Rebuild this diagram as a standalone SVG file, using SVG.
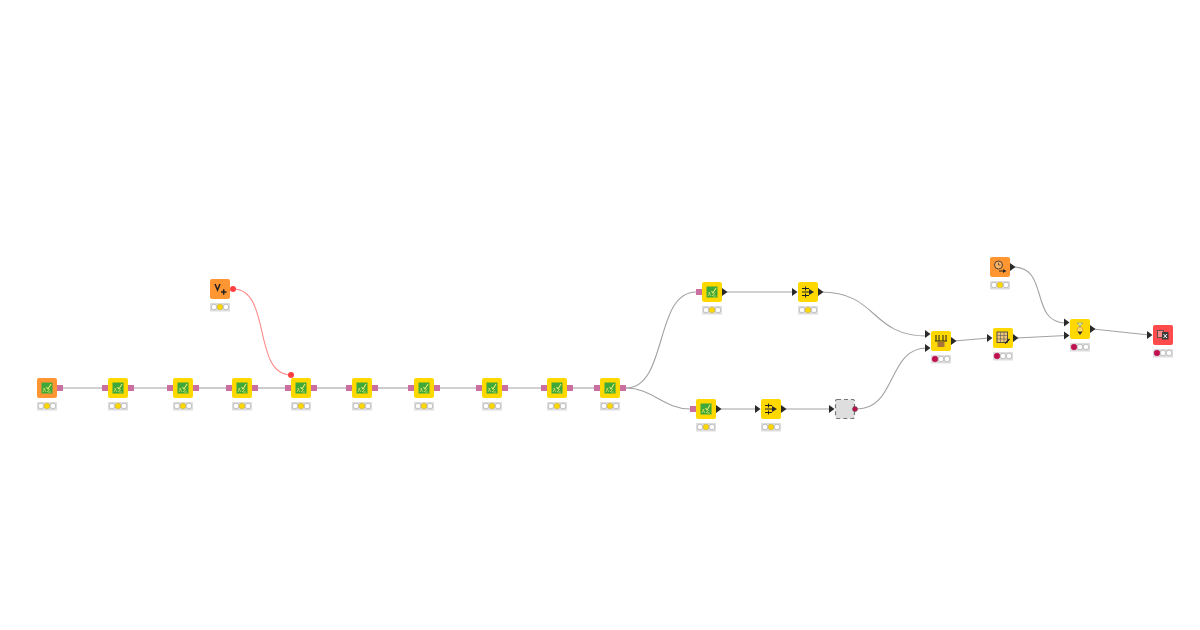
<svg xmlns="http://www.w3.org/2000/svg" width="1200" height="630" viewBox="0 0 1200 630">
<style>
.c{fill:none;stroke:#a2a2a2;stroke-width:1.100}
.r{fill:none;stroke:#ff8585;stroke-width:1.100}
.y{fill:#ffd800}.o{fill:#ff9632}.x{fill:#ff4b4b}.g{fill:#dedede;stroke:#777;stroke-width:1.200;stroke-dasharray:4 3}
.p{fill:#cb6fa0}.t{fill:#2a2a2a}.v{fill:#ff4040}.m{fill:#c0104f;stroke:#444;stroke-width:.5}
.sb{fill:#dedede}.l{fill:#fff;stroke:#aaa;stroke-width:.7}.ly{fill:#ffd800;stroke:#c8b040;stroke-width:.6}.lr{fill:#c0104f;stroke:#c0104f;stroke-width:.7}
.k{fill:none;stroke:#222;stroke-width:1}
</style>
<defs>
<g id="s-y"><rect class="sb" x="-10" y="14" width="20" height="8.500"/><circle class="l" cx="-6" cy="18" r="2.800"/><circle class="ly" cx="0" cy="18" r="2.800"/><circle class="l" cx="6" cy="18" r="2.800"/></g>
<g id="s-r"><rect class="sb" x="-10" y="14" width="20" height="8.500"/><circle class="lr" cx="-6" cy="18" r="2.800"/><circle class="l" cx="0" cy="18" r="2.800"/><circle class="l" cx="6" cy="18" r="2.800"/></g>
<g id="rf"><rect x="-5.500" y="-5.500" width="11" height="11" fill="#3ea83a"/><path d="M-.5 -1 L1 1 L4 -4" fill="none" stroke="#e4ec6a" stroke-width="1.100"/><path d="M-4 4 L-2 0 M-3.500 0 L-1 4 M0 4 L3 1 M1 4 H4" fill="none" stroke="#d8e25e" stroke-width=".8"/></g>
<path id="pr" d="M0 -4 L5.500 0 L0 4 Z" class="t"/>
<rect id="body-y" class="y" x="-10" y="-10" width="20" height="20" rx="2"/>
<rect id="body-o" class="o" x="-10" y="-10" width="20" height="20" rx="2"/>
<g id="pink-b"><rect class="p" x="-16" y="-3" width="6" height="6"/><rect class="p" x="10" y="-3" width="6" height="6"/></g>
<g id="join"><path d="M-6 -3.500 H1 M-6 3.500 H1 M-6 0 H2 M-2.500 -5.500 V-1.500 M-2.500 1.500 V5.500" class="k" stroke-width=".8"/><path d="M1 -3 L6 0 L1 3 Z" class="t"/></g>
</defs>
<g id="connectors">
<path class="c" d="M63 388 H102"/>
<path class="c" d="M134 388 H167"/>
<path class="c" d="M199 388 H226"/>
<path class="c" d="M258 388 H285"/>
<path class="c" d="M317 388 H346"/>
<path class="c" d="M378 388 H408"/>
<path class="c" d="M440 388 H476"/>
<path class="c" d="M508 388 H541"/>
<path class="c" d="M573 388 H594"/>
<path class="r" d="M233 289 C272 289 252 375 291 375"/>
<path class="c" d="M626 388 C668 388 654 292 696 292"/>
<path class="c" d="M626 388 C652 388 664 409 690 409"/>
<path class="c" d="M725 292 H794"/>
<path class="c" d="M821 292 C878 292 870 336 927 336"/>
<path class="c" d="M719 409 H757"/>
<path class="c" d="M784 409 H831"/>
<path class="c" d="M857 409 C897 409 887 348 927 348"/>
<path class="c" d="M954 341 L989 338"/>
<path class="c" d="M1016 338 L1066 335.500"/>
<path class="c" d="M1013 267 C1050 267 1029 323 1066 323"/>
<path class="c" d="M1093 329 L1149 335"/>
</g>
<g id="n1" transform="translate(47 388)"><use href="#body-o"/><use href="#rf"/><rect class="p" x="10" y="-3" width="6" height="6"/><use href="#s-y"/></g>
<g id="n2" transform="translate(118 388)"><use href="#body-y"/><use href="#rf"/><use href="#pink-b"/><use href="#s-y"/></g>
<g id="n3" transform="translate(183 388)"><use href="#body-y"/><use href="#rf"/><use href="#pink-b"/><use href="#s-y"/></g>
<g id="n4" transform="translate(242 388)"><use href="#body-y"/><use href="#rf"/><use href="#pink-b"/><use href="#s-y"/></g>
<g id="n5" transform="translate(301 388)"><use href="#body-y"/><use href="#rf"/><use href="#pink-b"/><use href="#s-y"/><circle class="v" cx="-10" cy="-13" r="3"/></g>
<g id="n6" transform="translate(362 388)"><use href="#body-y"/><use href="#rf"/><use href="#pink-b"/><use href="#s-y"/></g>
<g id="n7" transform="translate(424 388)"><use href="#body-y"/><use href="#rf"/><use href="#pink-b"/><use href="#s-y"/></g>
<g id="n8" transform="translate(492 388)"><use href="#body-y"/><use href="#rf"/><use href="#pink-b"/><use href="#s-y"/></g>
<g id="n9" transform="translate(557 388)"><use href="#body-y"/><use href="#rf"/><use href="#pink-b"/><use href="#s-y"/></g>
<g id="n10" transform="translate(610 388)"><use href="#body-y"/><use href="#rf"/><use href="#pink-b"/><use href="#s-y"/></g>
<g id="var" transform="translate(220 289)"><use href="#body-o"/><path d="M-5 -5 L-2.500 1 L0 -5 M1 3 H6.500 M3.700 .2 V5.800" fill="none" stroke="#222" stroke-width="1.500"/><circle class="v" cx="13" cy="0" r="3"/><use href="#s-y"/></g>
<g id="top1" transform="translate(712 292)"><use href="#body-y"/><use href="#rf"/><rect class="p" x="-16" y="-3" width="6" height="6"/><use href="#pr" x="10"/><use href="#s-y"/></g>
<g id="top2" transform="translate(808 292)"><use href="#body-y"/><use href="#join"/><use href="#pr" x="-16"/><use href="#pr" x="10"/><use href="#s-y"/></g>
<g id="bot1" transform="translate(706 409)"><use href="#body-y"/><use href="#rf"/><rect class="p" x="-16" y="-3" width="6" height="6"/><use href="#pr" x="10"/><use href="#s-y"/></g>
<g id="bot2" transform="translate(771 409)"><use href="#body-y"/><use href="#join"/><use href="#pr" x="-16"/><use href="#pr" x="10"/><use href="#s-y"/></g>
<g id="meta" transform="translate(845 409)"><use href="#pr" x="-16"/><rect class="g" x="-9.500" y="-9.500" width="19" height="19" rx="1.500"/><circle class="m" cx="10" cy="0" r="2.500"/></g>
<g id="colag" transform="translate(941 341)"><use href="#body-y"/><path d="M-5 -6 V0 M-2 -6 V0 M2 -6 V0 M5 -6 V0 M-6 0 H6" class="k" stroke-width=".8"/><rect x="-3.500" y="1" width="7" height="5" fill="#a87438"/><use href="#pr" x="-16" y="-7"/><use href="#pr" x="-16" y="7"/><use href="#pr" x="10"/><use href="#s-r"/></g>
<g id="table" transform="translate(1003 338)"><use href="#body-y"/><rect x="-6" y="-6" width="10.500" height="10.500" fill="#f0c87c" stroke="#444" stroke-width=".9"/><path d="M-6 -2.500 H4.500 M-6 1 H4.500 M-2.500 -6 V4.500 M1 -6 V4.500" stroke="#555" stroke-width=".6" fill="none"/><path d="M2 5.500 L6.500 1" stroke="#222" stroke-width="1.500"/><use href="#pr" x="-16"/><use href="#pr" x="10"/><use href="#s-r"/></g>
<g id="time" transform="translate(1000 267)"><use href="#body-o"/><circle cx="-1.500" cy="-2" r="4" fill="#ffb566" stroke="#333" stroke-width=".9"/><path d="M-1.500 -4.500 V-2 H.5" fill="none" stroke="#333" stroke-width=".7"/><path d="M-1 4 H4" stroke="#222" stroke-width="1"/><path d="M3 2 L6.500 4 L3 6 Z" class="t"/><use href="#pr" x="10"/><use href="#s-y"/></g>
<g id="rule" transform="translate(1080 329)"><use href="#body-y"/><path d="M-3 -6 H3 L-3 0 H3 L-3 -6" fill="#ffe9a0" stroke="#6aa3a0" stroke-width=".7"/><circle cx="0" cy="1" r="2.800" fill="#ffe060" stroke="#e8843c" stroke-width=".6"/><path d="M-2.500 2.500 H2.500 L0 6 Z" class="t"/><use href="#pr" x="-16" y="-6.500"/><use href="#pr" x="-16" y="6.500"/><use href="#pr" x="10"/><use href="#s-r"/></g>
<g id="writer" transform="translate(1163 335)"><rect class="x" x="-10" y="-10" width="20" height="20" rx="2"/><rect x="-5.500" y="-4.500" width="6" height="7" fill="#ff8a8a" stroke="#444" stroke-width=".8"/><rect x="-1" y="-3" width="6.500" height="7.500" fill="#3a3a3a"/><path d="M.5 -1 L4 3 M4 -1 L.5 3" stroke="#fff" stroke-width="1"/><use href="#pr" x="-16"/><use href="#s-r"/></g>
</svg>
